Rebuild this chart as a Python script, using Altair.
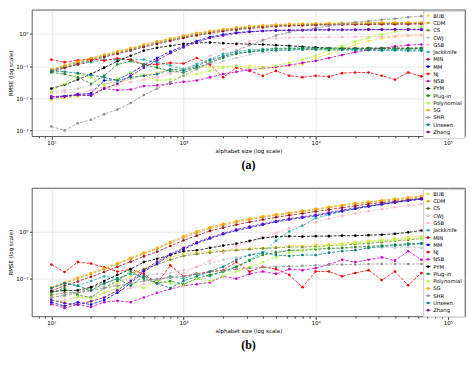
import altair as alt
import pandas as pd

# exponent of alphabet size (x = 10**value)
log_size = [2.0, 2.1, 2.2, 2.3, 2.4, 2.5, 2.6, 2.7, 2.8, 2.9,
            3.0, 3.1, 3.2, 3.3, 3.4, 3.5, 3.6, 3.7, 3.8, 3.9,
            4.0, 4.1, 4.2, 4.3, 4.4, 4.5, 4.6, 4.7, 4.8, 4.9]

names = ["BUB", "CDM", "CS", "CWJ", "GSB", "Jackknife", "MIN", "MM", "NJ", "NSB",
         "PYM", "Plug-in", "Polynomial", "SG", "SHR", "Unseen", "Zhang"]
colors = ["#f2dc4c", "#d4a017", "#7a8a2a", "#c8c8c8", "#ffb6c1", "#20b2aa", "#a0151c",
          "#0000ff", "#ff0000", "#cc00cc", "#000000", "#228b22", "#adff2f", "#ffa500",
          "#909090", "#008080", "#6a0dad"]

# ---- panel (a): log10 RMSE ----
bub_a = [-2.05,-2.00,-1.95,-1.85,-1.70,-1.55,-1.40,-1.28,-1.20,-1.12,-1.08,-1.05,-1.03,-1.02,-1.00,-1.00,-1.02,-1.03,-1.00,-0.95,-0.75,-0.62,-0.48,-0.33,-0.22,-0.14,-0.09,-0.05,-0.03,-0.02]
cdm_a = [-1.12,-1.00,-0.88,-0.77,-0.66,-0.56,-0.46,-0.35,-0.25,-0.16,-0.07,0.01,0.07,0.13,0.18,0.22,0.25,0.27,0.29,0.30,0.31,0.32,0.32,0.33,0.33,0.34,0.34,0.34,0.35,0.35]
cs_a = [-1.15,-1.03,-0.91,-0.80,-0.69,-0.59,-0.49,-0.38,-0.28,-0.19,-0.10,-0.02,0.05,0.11,0.16,0.20,0.23,0.25,0.27,0.28,0.29,0.30,0.30,0.31,0.31,0.32,0.32,0.32,0.33,0.33]
cwj_a = [-1.80,-1.75,-1.70,-1.60,-1.55,-1.50,-1.40,-1.30,-1.25,-1.20,-1.12,-1.05,-0.95,-0.85,-0.75,-0.65,-0.58,-0.53,-0.50,-0.49,-0.48,-0.48,-0.47,-0.47,-0.47,-0.48,-0.47,-0.47,-0.46,-0.46]
gsb_a = [-1.85,-1.80,-1.85,-1.75,-1.65,-1.60,-1.50,-1.42,-1.35,-1.25,-1.10,-0.90,-0.69,-0.48,-0.33,-0.24,-0.17,-0.14,-0.12,-0.11,-0.11,-0.10,-0.10,-0.09,-0.09,-0.08,-0.07,-0.06,-0.05,-0.05]
jack_a = [-1.12,-1.05,-0.95,-0.88,-0.80,-0.80,-0.80,-0.80,-0.88,-0.98,-1.09,-0.95,-0.79,-0.62,-0.55,-0.50,-0.47,-0.45,-0.44,-0.44,-0.44,-0.46,-0.48,-0.50,-0.50,-0.52,-0.52,-0.53,-0.53,-0.54]
min_a = [-1.18,-1.06,-0.95,-0.84,-0.72,-0.62,-0.52,-0.41,-0.31,-0.22,-0.13,-0.05,0.02,0.08,0.13,0.17,0.20,0.23,0.25,0.26,0.27,0.28,0.28,0.29,0.29,0.30,0.30,0.30,0.31,0.31]
mm_a = [-1.95,-1.93,-1.88,-1.85,-1.45,-1.42,-1.22,-0.98,-0.75,-0.55,-0.38,-0.22,-0.10,-0.02,0.04,0.07,0.09,0.10,0.11,0.11,0.12,0.12,0.12,0.12,0.13,0.13,0.13,0.13,0.13,0.13]
nj_a = [-0.80,-0.88,-0.82,-0.78,-0.83,-0.76,-0.80,-0.95,-0.95,-0.90,-0.92,-0.75,-0.95,-1.35,-1.05,-1.15,-1.30,-1.15,-1.30,-1.35,-1.30,-1.33,-1.22,-1.20,-1.20,-1.30,-1.42,-1.20,-1.32,-1.32]
nsb_a = [-1.95,-1.95,-1.90,-1.90,-1.70,-1.75,-1.73,-1.62,-1.60,-1.55,-1.49,-1.45,-1.35,-1.25,-1.18,-1.12,-1.07,-1.03,-0.97,-0.90,-0.84,-0.75,-0.66,-0.57,-0.50,-0.44,-0.39,-0.35,-0.33,-0.32]
pym_a = [-1.70,-1.58,-1.42,-1.25,-1.05,-0.85,-0.68,-0.52,-0.43,-0.37,-0.31,-0.28,-0.27,-0.29,-0.31,-0.32,-0.33,-0.35,-0.37,-0.40,-0.42,-0.44,-0.45,-0.45,-0.44,-0.45,-0.44,-0.45,-0.44,-0.44]
plug_a = [-1.20,-1.25,-1.35,-1.55,-1.30,-0.95,-0.85,-0.95,-1.05,-1.15,-1.20,-1.05,-0.90,-0.75,-0.62,-0.55,-0.50,-0.47,-0.46,-0.45,-0.45,-0.45,-0.44,-0.45,-0.45,-0.44,-0.45,-0.45,-0.44,-0.45]
poly_a = [-1.80,-1.55,-1.25,-1.35,-1.60,-1.40,-1.20,-1.30,-1.45,-1.42,-1.30,-1.25,-1.15,-1.05,-1.00,-1.05,-1.08,-0.99,-0.90,-0.80,-0.68,-0.52,-0.38,-0.24,-0.12,-0.01,0.07,0.15,0.22,0.26]
sg_a = [-1.10,-0.98,-0.86,-0.75,-0.64,-0.54,-0.44,-0.33,-0.23,-0.14,-0.05,0.03,0.09,0.15,0.20,0.24,0.27,0.29,0.31,0.32,0.33,0.33,0.34,0.34,0.35,0.35,0.35,0.36,0.36,0.36]
shr_a = [-2.88,-3.00,-2.78,-2.67,-2.50,-2.35,-2.15,-1.90,-1.70,-1.50,-1.30,-1.10,-0.90,-0.70,-0.52,-0.35,-0.20,-0.05,0.05,0.12,0.18,0.25,0.31,0.36,0.40,0.44,0.47,0.52,0.55,0.57]
unseen_a = [-1.15,-1.18,-1.22,-1.28,-1.35,-1.45,-1.35,-1.30,-1.25,-1.10,-1.14,-1.00,-0.82,-0.70,-0.60,-0.56,-0.53,-0.51,-0.50,-0.49,-0.49,-0.50,-0.50,-0.49,-0.50,-0.50,-0.49,-0.50,-0.50,-0.50]
zhang_a = [-2.00,-1.95,-1.90,-1.92,-1.70,-1.55,-1.30,-1.05,-0.82,-0.60,-0.42,-0.26,-0.13,-0.05,0.02,0.06,0.09,0.11,0.12,0.12,0.13,0.13,0.13,0.13,0.14,0.14,0.14,0.14,0.14,0.14]

# ---- panel (b): log10 RMSE ----
bub_b = [-1.55,-1.60,-1.55,-1.50,-1.30,-1.10,-0.95,-0.80,-0.65,-0.55,-0.48,-0.45,-0.42,-0.40,-0.38,-0.36,-0.35,-0.33,-0.30,-0.30,-0.28,-0.27,-0.25,-0.22,-0.20,-0.18,-0.15,-0.12,-0.10,-0.10]
cdm_b = [-1.20,-1.10,-1.00,-0.90,-0.80,-0.69,-0.58,-0.47,-0.37,-0.25,-0.13,-0.03,0.06,0.13,0.19,0.25,0.30,0.34,0.38,0.42,0.46,0.50,0.54,0.58,0.61,0.64,0.67,0.70,0.73,0.75]
cs_b = [-1.35,-1.30,-1.30,-1.20,-1.10,-1.00,-0.90,-0.80,-0.70,-0.60,-0.52,-0.48,-0.45,-0.42,-0.40,-0.38,-0.36,-0.35,-0.33,-0.33,-0.32,-0.30,-0.29,-0.27,-0.25,-0.23,-0.20,-0.18,-0.15,-0.14]
cwj_b = [-1.40,-1.38,-1.30,-1.25,-1.15,-1.05,-1.00,-0.95,-0.90,-0.88,-0.82,-0.75,-0.68,-0.60,-0.55,-0.50,-0.45,-0.42,-0.40,-0.38,-0.37,-0.36,-0.36,-0.35,-0.35,-0.34,-0.34,-0.33,-0.35,-0.33]
gsb_b = [-1.50,-1.45,-1.40,-1.38,-1.30,-1.25,-1.20,-1.12,-1.05,-0.95,-0.88,-0.75,-0.62,-0.45,-0.32,-0.22,-0.12,-0.03,0.06,0.13,0.20,0.27,0.33,0.38,0.43,0.47,0.51,0.55,0.58,0.60]
jack_b = [-1.20,-1.10,-1.15,-1.05,-0.95,-1.00,-0.90,-0.95,-1.05,-0.95,-1.00,-0.90,-0.95,-0.85,-0.75,-0.60,-0.45,-0.20,0.00,0.12,0.28,0.35,0.42,0.48,0.53,0.58,0.62,0.66,0.70,0.72]
min_b = [-1.26,-1.15,-1.06,-0.96,-0.86,-0.75,-0.64,-0.53,-0.43,-0.31,-0.19,-0.09,0.01,0.08,0.14,0.20,0.25,0.30,0.34,0.38,0.42,0.46,0.50,0.54,0.58,0.61,0.64,0.67,0.70,0.72]
mm_b = [-1.50,-1.58,-1.50,-1.55,-1.45,-1.30,-1.10,-0.85,-0.68,-0.50,-0.38,-0.25,-0.15,-0.06,0.02,0.08,0.14,0.20,0.25,0.29,0.33,0.38,0.43,0.48,0.53,0.57,0.61,0.65,0.68,0.70]
nj_b = [-0.70,-0.86,-0.65,-0.68,-0.76,-0.85,-0.80,-0.90,-1.10,-0.72,-0.95,-0.90,-0.85,-0.82,-0.65,-0.85,-0.75,-0.80,-0.92,-1.18,-0.85,-0.85,-0.95,-0.88,-0.82,-1.03,-0.85,-1.14,-0.88,-0.90]
nsb_b = [-1.54,-1.62,-1.55,-1.60,-1.50,-1.47,-1.50,-1.40,-1.30,-1.22,-1.15,-1.12,-1.08,-0.95,-1.00,-0.90,-0.85,-0.90,-0.80,-0.82,-0.78,-0.70,-0.60,-0.65,-0.60,-0.55,-0.62,-0.42,-0.60,-0.58]
pym_b = [-1.28,-1.25,-1.25,-1.18,-1.05,-0.92,-0.80,-0.65,-0.58,-0.50,-0.42,-0.40,-0.35,-0.30,-0.26,-0.20,-0.14,-0.11,-0.10,-0.11,-0.10,-0.10,-0.09,-0.09,-0.08,-0.07,-0.05,-0.02,0.02,0.03]
plug_b = [-1.30,-1.20,-1.35,-1.40,-1.20,-1.05,-0.85,-1.00,-1.10,-1.05,-1.12,-1.00,-0.92,-0.85,-0.75,-0.62,-0.50,-0.45,-0.40,-0.40,-0.38,-0.36,-0.35,-0.33,-0.32,-0.30,-0.28,-0.26,-0.25,-0.25]
poly_b = [-1.45,-1.50,-1.38,-1.42,-1.30,-1.20,-1.10,-1.20,-1.05,-1.10,-1.15,-1.00,-1.05,-0.95,-0.85,-0.75,-0.65,-0.55,-0.45,-0.40,-0.35,-0.30,-0.28,-0.25,-0.22,-0.20,-0.18,-0.15,-0.15,-0.14]
sg_b = [-1.18,-1.08,-0.98,-0.88,-0.78,-0.67,-0.56,-0.45,-0.35,-0.22,-0.10,0.00,0.09,0.16,0.22,0.27,0.32,0.36,0.40,0.44,0.48,0.52,0.56,0.60,0.63,0.66,0.69,0.72,0.75,0.77]
shr_b = [-1.40,-1.35,-1.30,-1.25,-1.20,-1.15,-1.10,-1.05,-1.01,-0.98,-0.95,-0.90,-0.86,-0.83,-0.80,-0.78,-0.76,-0.75,-0.74,-0.73,-0.72,-0.71,-0.70,-0.70,-0.69,-0.69,-0.69,-0.69,-0.69,-0.69]
unseen_b = [-1.20,-1.10,-1.15,-1.25,-1.10,-1.00,-1.15,-0.95,-1.10,-1.20,-1.05,-0.95,-0.85,-0.75,-0.60,-0.50,-0.45,-0.50,-0.52,-0.50,-0.50,-0.45,-0.42,-0.40,-0.35,-0.32,-0.30,-0.28,-0.26,-0.25]
zhang_b = [-1.45,-1.52,-1.55,-1.48,-1.40,-1.25,-1.05,-0.82,-0.64,-0.48,-0.35,-0.23,-0.13,-0.04,0.04,0.10,0.16,0.22,0.27,0.31,0.35,0.40,0.45,0.50,0.54,0.58,0.62,0.66,0.69,0.71]

series_a = [bub_a, cdm_a, cs_a, cwj_a, gsb_a, jack_a, min_a, mm_a, nj_a, nsb_a,
            pym_a, plug_a, poly_a, sg_a, shr_a, unseen_a, zhang_a]
series_b = [bub_b, cdm_b, cs_b, cwj_b, gsb_b, jack_b, min_b, mm_b, nj_b, nsb_b,
            pym_b, plug_b, poly_b, sg_b, shr_b, unseen_b, zhang_b]

# axis tick positions (majors labelled, minors unlabelled like a log axis)
x_major = [100, 1000, 10000, 100000]
x_minor = [k * d for d in [10, 100, 1000, 10000] for k in range(2, 10)
           if 71 < k * d < 134000]


def to_frame(series):
    rows = []
    for name, vals in zip(names, series):
        for lx, ly in zip(log_size, vals):
            rows.append({"size": 10 ** lx, "rmse": 10 ** ly, "est": name})
    return pd.DataFrame(rows)


W = 435
MAJOR_TEST = "indexof([100, 1000, 10000, 100000], datum.value) >= 0"
XLAB = ("datum.value == 100 ? '10²' : datum.value == 1000 ? '10³' : "
        "datum.value == 10000 ? '10⁴' : datum.value == 100000 ? '10⁵' : ''")
YLAB = ("datum.value < 0.005 ? '10⁻³' : datum.value < 0.05 ? '10⁻²' : "
        "datum.value < 0.5 ? '10⁻¹' : '10⁰'")
LEG_SYMBOL = "M-1,0H1M0.4,0A0.4,0.4,0,1,1,-0.4,0A0.4,0.4,0,1,1,0.4,0Z"


def panel(series, ydom, yvals, height, caption):
    df = to_frame(series)
    x = alt.X("size:Q",
              scale=alt.Scale(type="log", domain=[10 ** 1.853, 10 ** 5.13], nice=False),
              axis=alt.Axis(values=sorted(x_major + x_minor), labelExpr=XLAB,
                            title="alphabet size (log scale)",
                            gridOpacity={"condition": {"test": MAJOR_TEST, "value": 1}, "value": 0},
                            tickSize={"condition": {"test": MAJOR_TEST, "value": 3}, "value": 1.6}))
    y = alt.Y("rmse:Q",
              scale=alt.Scale(type="log", domain=ydom, nice=False),
              axis=alt.Axis(values=yvals, labelExpr=YLAB, title="RMSE (log scale)"))
    color = alt.Color("est:N", scale=alt.Scale(domain=names, range=colors),
                      legend=alt.Legend(title=None, orient="top-right", offset=1,
                                        fillColor="white", strokeColor="#cccccc",
                                        padding=2, rowPadding=0.3, labelFontSize=5.3,
                                        labelFont="DejaVu Sans", labelOffset=2,
                                        symbolType=LEG_SYMBOL, symbolSize=24,
                                        symbolStrokeWidth=0.8, labelLimit=60))
    base = alt.Chart(df)
    lines = base.mark_line(strokeDash=[3, 1.5], strokeWidth=0.8).encode(
        x=x, y=y, color=color, order="size:Q")
    pts = base.mark_circle(size=7, opacity=1).encode(x=x, y=y, color=color)
    return alt.layer(lines, pts).properties(
        width=W, height=height,
        title=alt.TitleParams(caption, orient="bottom", font="Liberation Serif",
                              fontSize=12, fontWeight="bold", offset=6,
                              anchor="middle", color="#000000"))


pa = panel(series_a, [10 ** -3.18, 10 ** 0.75], [0.001, 0.01, 0.1, 1], 127, "(a)")
pb = panel(series_b, [10 ** -1.8, 10 ** 0.92], [0.1, 1], 129, "(b)")

chart = alt.vconcat(pa, pb, spacing=16).resolve_scale(
    color="independent", x="independent", y="independent"
).properties(padding=0).configure_view(
    stroke="#333333", strokeWidth=0.8
).configure_axis(
    domain=False, grid=True, gridColor="#d9d9d9", gridWidth=0.6,
    tickColor="#333333", tickSize=2.5, labelFont="DejaVu Sans", labelFontSize=5.5,
    labelColor="#000000", labelPadding=1.5, titleFont="DejaVu Sans",
    titleFontSize=5.5, titleFontWeight="normal", titleColor="#000000", titlePadding=2
)

chart.save("out.html", embed_options={"renderer": "svg", "actions": False})
